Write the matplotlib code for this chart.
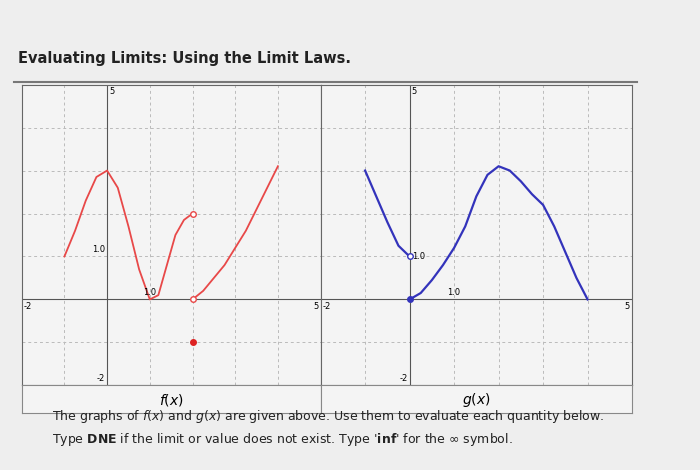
import matplotlib.pyplot as plt
import numpy as np

# f(x) pieces
f1_x = [-1, -0.75, -0.5, -0.25, 0, 0.25, 0.5, 0.75, 1.0, 1.2, 1.4, 1.6, 1.8, 2.0]
f1_y = [1.0, 1.6, 2.3, 2.85, 3.0, 2.6, 1.7, 0.7, 0.0, 0.1, 0.8, 1.5, 1.85, 2.0]
f2_x = [2.0, 2.25, 2.5, 2.75, 3.0, 3.25, 3.5, 3.75, 4.0]
f2_y = [0.0, 0.2, 0.5, 0.8, 1.2, 1.6, 2.1, 2.6, 3.1]
f_open = ([2, 2], [2, 0])
f_filled = ([2], [-1])

# g(x)
g_x = [-1, -0.75, -0.5, -0.25, 0]
g_y = [3.0, 2.4, 1.8, 1.25, 1.0]
g2_x = [0, 0.25, 0.5, 0.75, 1.0, 1.25, 1.5, 1.75, 2.0, 2.25, 2.5, 2.75, 3.0, 3.25, 3.5, 3.75, 4.0]
g2_y = [0.0, 0.15, 0.45, 0.8, 1.2, 1.7, 2.4, 2.9, 3.1, 3.0, 2.75, 2.45, 2.2, 1.7, 1.1, 0.5, 0.0]
g_open = ([0], [1])
g_filled = ([0], [0])

fig = plt.figure(figsize=(7, 4.7), dpi=100)
fig.patch.set_facecolor('#eeeeee')

fig.text(0.025, 0.865, 'Evaluating Limits: Using the Limit Laws.', fontsize=10.5,
         fontweight='bold', color='#222222')
fig.add_artist(plt.Line2D([0.02, 0.91], [0.825, 0.825], color='#777777', lw=1.5))


def panel(rect, name):
    ax = fig.add_axes(rect)
    ax.set_facecolor('#f4f4f4')
    ax.set_xlim(-2, 5)
    ax.set_ylim(-2, 5)
    ax.set_xticks(range(-2, 6))
    ax.set_yticks(range(-2, 6))
    ax.grid(True, ls=(0, (3, 3)), color='#bbbbbb', lw=0.7)
    ax.tick_params(length=0, labelbottom=False, labelleft=False)
    ax.axhline(0, color='#555555', lw=0.8)
    ax.axvline(0, color='#555555', lw=0.8)
    for s in ax.spines.values():
        s.set_color('#666666')
    fs = 6
    ax.text(0.05, 4.95, '5', fontsize=fs, va='top')
    ax.text(-1.95, -0.05, '-2', fontsize=fs, va='top')
    ax.text(4.95, -0.05, '5', fontsize=fs, va='top', ha='right')
    ax.text(-0.05, -1.95, '-2', fontsize=fs, va='bottom', ha='right')
    cap = fig.add_axes([rect[0], rect[1] - 0.058, rect[2], 0.058])
    cap.set_facecolor('#f4f4f4')
    cap.set_xticks([])
    cap.set_yticks([])
    for s in cap.spines.values():
        s.set_color('#888888')
    cap.text(0.5, 0.45, name, ha='center', va='center', fontsize=10)
    return ax


ax1 = panel([0.031, 0.18, 0.427, 0.64], r'$f(x)$')
red = '#e84848'
ax1.plot(f1_x, f1_y, color=red, lw=1.3)
ax1.plot(f2_x, f2_y, color=red, lw=1.3)
ax1.plot(*f_open, 'o', ms=4, mfc='white', mec=red)
ax1.plot(*f_filled, 'o', ms=4, color='#dd2222')
ax1.text(-0.2, 1.05, '1.0', fontsize=6, ha='center', va='bottom')
ax1.text(1.0, 0.05, '1.0', fontsize=6, ha='center', va='bottom')

ax2 = panel([0.458, 0.18, 0.445, 0.64], r'$g(x)$')
blue = '#3333bb'
ax2.plot(g_x, g_y, color=blue, lw=1.6)
ax2.plot(g2_x, g2_y, color=blue, lw=1.6)
ax2.plot(*g_open, 'o', ms=4, mfc='white', mec=blue)
ax2.plot(*g_filled, 'o', ms=4, color=blue)
ax2.text(0.05, 1.0, '1.0', fontsize=6, va='center')
ax2.text(1.0, 0.05, '1.0', fontsize=6, ha='center', va='bottom')

fig.text(0.075, 0.058, 'The graphs of $f(x)$ and $g(x)$ are given above. Use them to evaluate each quantity below.\n'
         "Type $\\mathbf{DNE}$ if the limit or value does not exist. Type '$\\mathbf{inf}$' for the $\\infty$ symbol.",
         fontsize=9, color='#222222', linespacing=1.5)

fig.savefig('out.png', dpi=100, facecolor=fig.get_facecolor())
